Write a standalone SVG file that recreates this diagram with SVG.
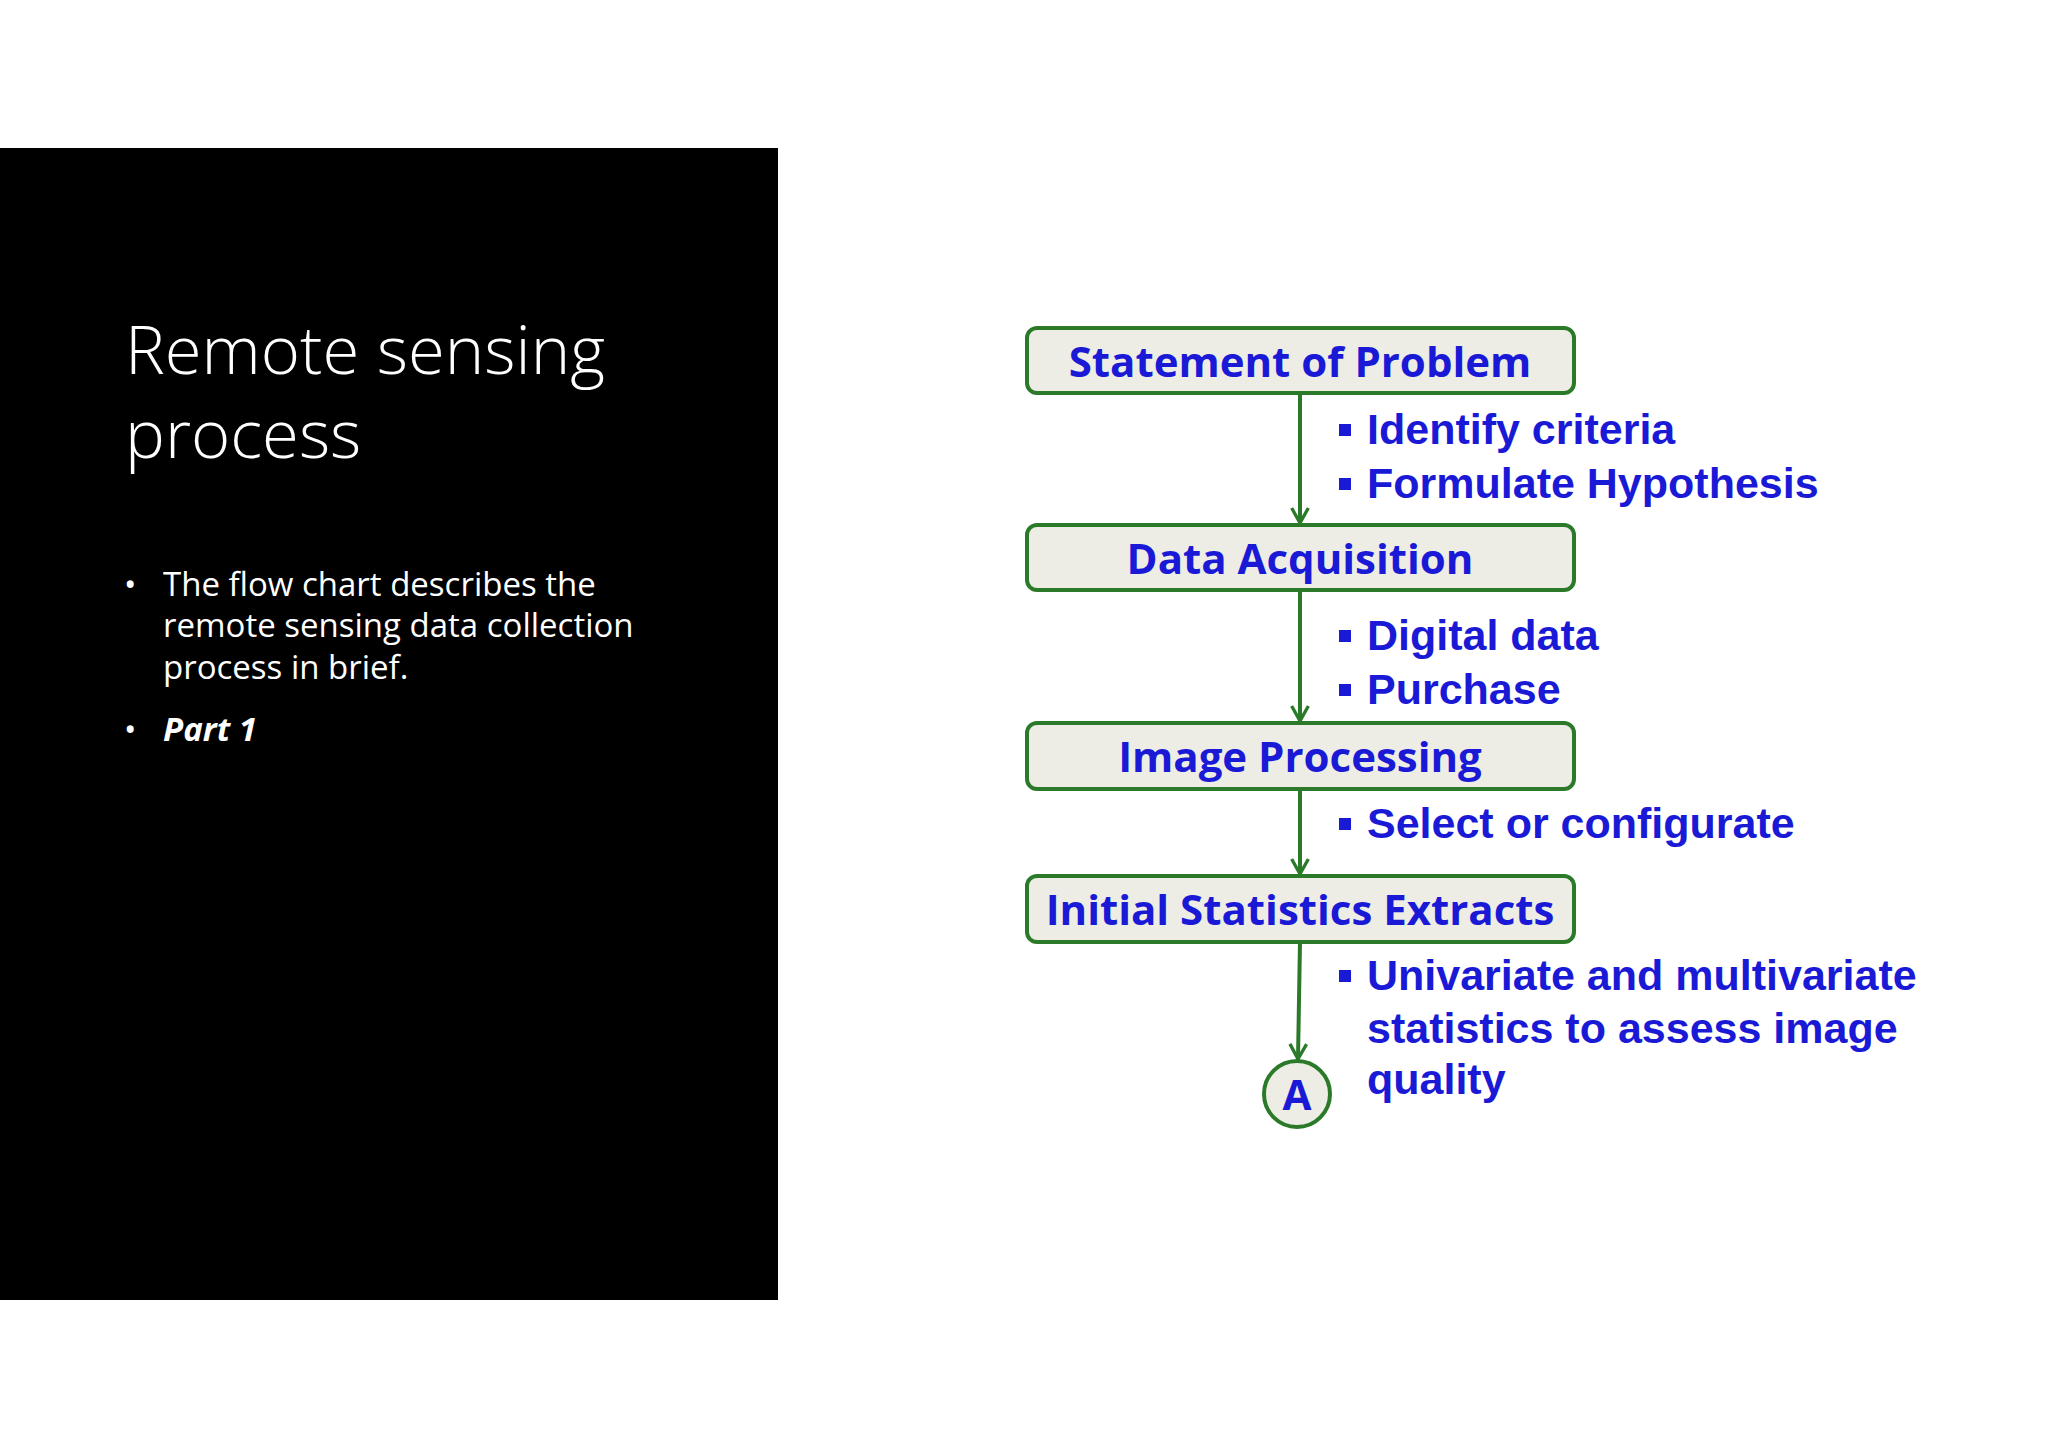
<svg xmlns="http://www.w3.org/2000/svg" width="2048" height="1448" viewBox="0 0 2048 1448">
<defs>
<style>
.box{fill:#eeede5;stroke:#2a7a2a;stroke-width:4}
.bt{font-family:"Open Sans",sans-serif;font-weight:700;font-size:42px;fill:#1a1ad6;text-anchor:middle}
.li{font-family:"Liberation Sans",Arial,sans-serif;font-weight:700;font-size:43px;fill:#1a1ad6}
.sq{fill:#1a1ad6}
.con{stroke:#2a7a2a;stroke-width:4;fill:none;marker-end:url(#ah)}
.wt{font-family:"Open Sans",sans-serif;fill:#fff}
</style>
<marker id="ah" viewBox="0 0 12 12" refX="10" refY="6" markerWidth="5" markerHeight="5" orient="auto" markerUnits="strokeWidth"><path d="M1,1 L10,6 L1,11" fill="none" stroke="#2a7a2a" stroke-width="2"/></marker>
</defs>
<rect width="2048" height="1448" fill="#fff"/>
<rect x="0" y="148" width="778" height="1152" fill="#000"/>
<text class="wt" x="125" y="374" font-size="67" font-weight="300">Remote sensing</text>
<text class="wt" x="125" y="458" font-size="67" font-weight="300">process</text>
<g class="wt" font-size="33">
<text x="124" y="596">•</text>
<text x="163" y="596">The flow chart describes the</text>
<text x="163" y="637">remote sensing data collection</text>
<text x="163" y="679">process in brief.</text>
<text x="124" y="741">•</text>
<text x="163" y="741" font-weight="700" font-style="italic">Part 1</text>
</g>
<g id="connectors">
<line class="con" x1="1300" y1="393" x2="1300" y2="523"/>
<line class="con" x1="1300" y1="590" x2="1300" y2="721"/>
<line class="con" x1="1300" y1="789" x2="1300" y2="874"/>
<line class="con" x1="1300" y1="942" x2="1298" y2="1059"/>
</g>
<g id="n1"><rect class="box" x="1027" y="328" width="547" height="65" rx="10"/><text class="bt" x="1300" y="377">Statement of Problem</text></g>
<g id="n2"><rect class="box" x="1027" y="525" width="547" height="65" rx="10"/><text class="bt" x="1300" y="574">Data Acquisition</text></g>
<g id="n3"><rect class="box" x="1027" y="723" width="547" height="66" rx="10"/><text class="bt" x="1300" y="772">Image Processing</text></g>
<g id="n4"><rect class="box" x="1027" y="876" width="547" height="66" rx="10"/><text class="bt" x="1300" y="925">Initial Statistics Extracts</text></g>
<g id="nA"><circle cx="1297" cy="1094" r="33" fill="#eeede5" stroke="#2a7a2a" stroke-width="4"/><text class="bt" x="1297" y="1110">A</text></g>
<g id="notes">
<rect class="sq" x="1339" y="424" width="12" height="12"/><text class="li" x="1367" y="444">Identify criteria</text>
<rect class="sq" x="1339" y="478" width="12" height="12"/><text class="li" x="1367" y="498">Formulate Hypothesis</text>
<rect class="sq" x="1339" y="630" width="12" height="12"/><text class="li" x="1367" y="650">Digital data</text>
<rect class="sq" x="1339" y="684" width="12" height="12"/><text class="li" x="1367" y="704">Purchase</text>
<rect class="sq" x="1339" y="818" width="12" height="12"/><text class="li" x="1367" y="838">Select or configurate</text>
<rect class="sq" x="1339" y="970" width="12" height="12"/><text class="li" x="1367" y="990">Univariate and multivariate</text>
<text class="li" x="1367" y="1043">statistics to assess image</text>
<text class="li" x="1367" y="1094">quality</text>
</g>
</svg>
